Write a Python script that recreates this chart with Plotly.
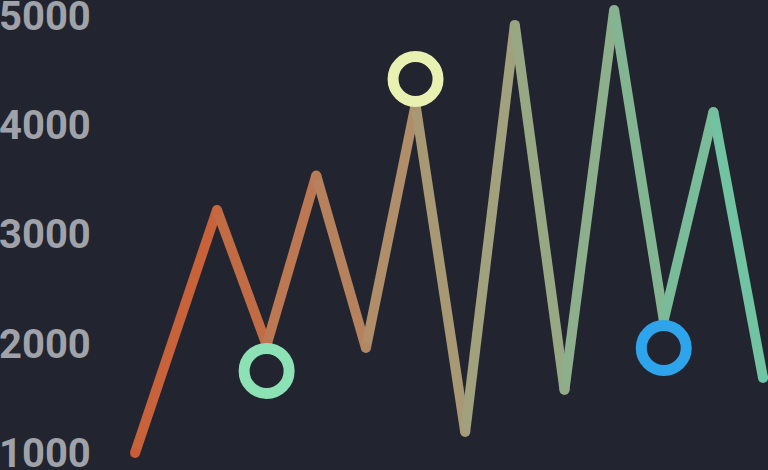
import plotly.graph_objects as go

# ---- data ----
x_vals = [0.35, 2, 3, 4, 5, 6, 7, 8, 9, 10, 11, 12, 13]
y_vals = [1000, 3224, 1989, 3540, 1961, 4185, 1192, 4918, 1577, 5055, 2217, 4121, 1686]

marker_x = [3, 6, 11]
marker_y = [1751, 4423, 1961]
marker_colors = ["#8ce2b5", "#e9f1b2", "#2ea4ec"]

tick_vals = [1000, 2000, 3000, 4000, 5000]
tick_text = ["1000", "2000", "3000", "4000", "5000"]

# ---- colours ----
stops = [(0.0, (203, 92, 53)), (0.5, (166, 158, 122)), (1.0, (108, 198, 165))]


def grad(t):
    for (t0, c0), (t1, c1) in zip(stops[:-1], stops[1:]):
        if t <= t1:
            f = (t - t0) / (t1 - t0) if t1 > t0 else 0
            return "rgb(%d,%d,%d)" % tuple(round(a + (b - a) * f) for a, b in zip(c0, c1))
    return "rgb(%d,%d,%d)" % stops[-1][1]


fig = go.Figure()
n = len(x_vals)
LW = 10
for i in range(n - 1):
    t = (i + 0.5) / (n - 1)
    fig.add_trace(go.Scatter(
        x=x_vals[i:i + 2], y=y_vals[i:i + 2], mode="lines",
        line=dict(color=grad(t), width=LW), hoverinfo="skip", showlegend=False))

fig.add_trace(go.Scatter(
    x=x_vals, y=y_vals, mode="markers",
    marker=dict(size=LW, color=[grad(i / (n - 1)) for i in range(n)], line=dict(width=0)),
    hoverinfo="skip", showlegend=False))

fig.add_trace(go.Scatter(
    x=marker_x, y=marker_y, mode="markers",
    marker=dict(symbol="circle-open", size=45, color=marker_colors,
                line=dict(width=11, color=marker_colors)),
    hoverinfo="skip", showlegend=False))

BG = "#22252f"
fig.update_layout(
    width=768, height=470,
    margin=dict(l=0, r=0, t=0, b=0, pad=0),
    paper_bgcolor=BG, plot_bgcolor=BG,
    xaxis=dict(range=[-2.371, 13.10], visible=False, fixedrange=True, automargin=False),
    yaxis=dict(range=[844, 5146], tickvals=tick_vals, ticktext=tick_text,
               automargin=False,
               ticklabelposition="inside", ticklabeloverflow="allow",
               ticklabelstandoff=-4,
               showgrid=False, zeroline=False, showline=False, ticks="",
               tickfont=dict(family="Roboto", size=40,
                             color="#a0a2a9", weight="bold"),
               fixedrange=True),
)

fig.write_html("out.html", config={"staticPlot": True},
               post_script="document.body.style.margin='0';"
                           "document.body.style.background='#22252f';")
